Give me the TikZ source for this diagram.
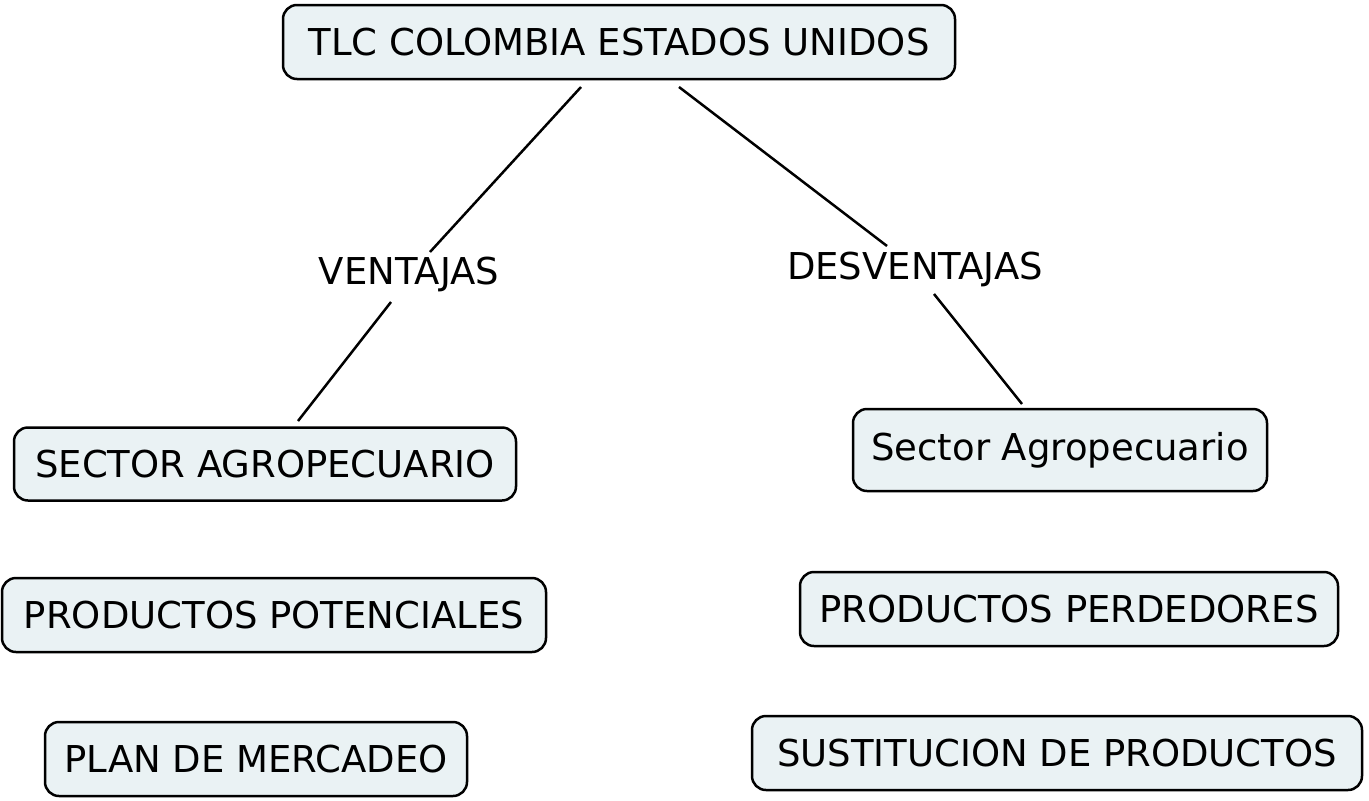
\documentclass[tikz,border=0pt]{standalone}
\usepackage{fontspec}
\setmainfont{DejaVu Sans}
\begin{document}
\begin{tikzpicture}[x=1pt,y=-1pt,
  box/.style={draw,line width=2.5pt,rounded corners=14pt,fill={rgb,255:red,234;green,242;blue,244},inner sep=0pt,font=\fontsize{37}{42}\selectfont},
  lbl/.style={font=\fontsize{37}{42}\selectfont,inner sep=0pt},
  conn/.style={line width=2.5pt}]
\useasboundingbox (0,0) rectangle (1369,801);
\node[box,minimum width=672,minimum height=74] (top) at (619,42) {TLC COLOMBIA ESTADOS UNIDOS};
\node[box,minimum width=502,minimum height=73] (sa) at (265,464) {SECTOR AGROPECUARIO};
\node[box,minimum width=544,minimum height=74] (pp) at (274,615) {PRODUCTOS POTENCIALES};
\node[box,minimum width=422,minimum height=74] (pm) at (256,759) {PLAN DE MERCADEO};
\node[box,minimum width=414,minimum height=82] (sb) at (1060,450) {Sector Agropecuario};
\node[box,minimum width=538,minimum height=74] (pd) at (1069,609) {PRODUCTOS PERDEDORES};
\node[box,minimum width=610,minimum height=74] (sp) at (1057,753) {SUSTITUCION DE PRODUCTOS};
\node[lbl] (v) at (409,274) {VENTAJAS};
\node[lbl] (d) at (915,269) {DESVENTAJAS};
\coordinate (t1) at (581,87); \coordinate (v1) at (430,252);
\coordinate (v2) at (391,302); \coordinate (s1) at (298,421);
\coordinate (t2) at (679,87); \coordinate (d1) at (887,246);
\coordinate (d2) at (934,294); \coordinate (s2) at (1022,404);
\draw[conn] (t1) -- (v1);
\draw[conn] (v2) -- (s1);
\draw[conn] (t2) -- (d1);
\draw[conn] (d2) -- (s2);
\end{tikzpicture}
\end{document}
